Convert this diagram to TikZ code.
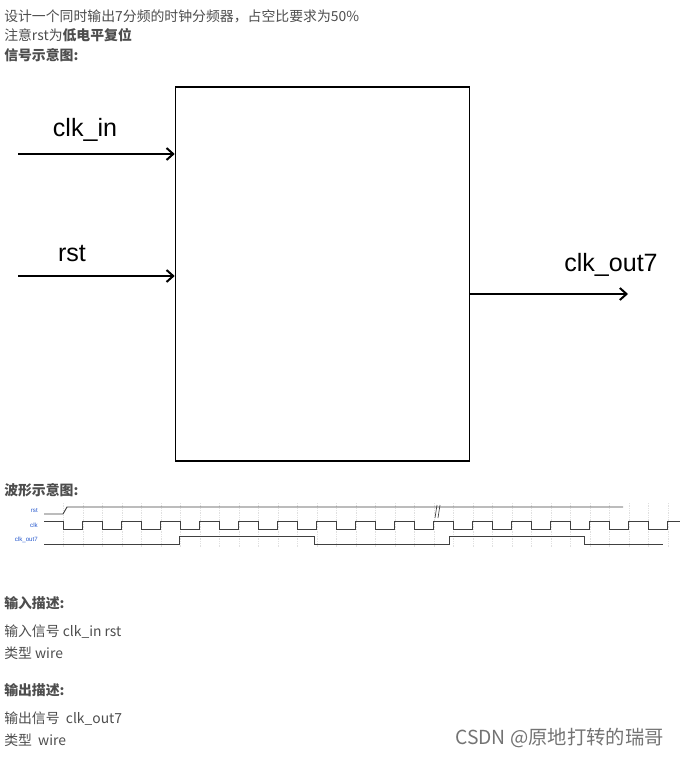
\documentclass[tikz,border=0pt]{standalone}
\usepackage{fontspec}
\usetikzlibrary{arrows.meta}
\setmainfont{Liberation Sans}
\newfontfamily\cjk{Noto Sans CJK SC}
\definecolor{txt}{HTML}{4D4D4D}
\definecolor{wblue}{HTML}{2255CC}
\begin{document}
\begin{tikzpicture}[x=0.75pt,y=-0.75pt,
  hdr/.style={anchor=west,inner sep=0,text=txt,font=\cjk\fontsize{10.4}{12}\selectfont},
  big/.style={inner sep=0,font=\fontsize{18.8}{22}\selectfont},
  sig/.style={-{Straight Barb[length=5pt,width=9pt]},line width=1.5pt},
  wave/.style={line width=0.7pt,draw=black!75},
  wlab/.style={anchor=east,inner sep=0,text=wblue,font=\fontsize{4.6}{5}\selectfont}]
\useasboundingbox (0,0) rectangle (680,757);
\node[hdr] (t1) at (4,16) {设计一个同时输出7分频的时钟分频器，占空比要求为50\%};
\node[hdr] (t2) at (4,35) {注意rst为\textbf{低电平复位}};
\node[hdr] (t3) at (4,55) {\textbf{信号示意图:}};
\node[draw,line width=1.2pt,minimum width=220.5pt,minimum height=280.5pt,inner sep=0] (box) at (322.5,274) {};
\coordinate (a1) at (18,154); \coordinate (a2) at (18,276);
\draw[sig] (a1) -- (a1 -| box.west);
\draw[sig] (a2) -- (a2 -| box.west);
\coordinate (o) at (628,294);
\draw[sig] (o -| box.east) -- (o);
\node[big] (l1) at (85,130) {clk\_in};
\node[big] (l2) at (72,254) {rst};
\node[big] (l3) at (611,265) {clk\_out7};
\node[hdr] (t4) at (4,490) {\textbf{波形示意图:}};
% grid
\foreach \i in {0,...,31} \draw[black!12,densely dotted,line width=0.3pt] ({63.5+19.5*\i},503) -- ({63.5+19.5*\i},548);
\node[wlab] (wr) at (38,511) {rst};
\node[wlab] (wc) at (38,525) {clk};
\node[wlab] (wo) at (38,540) {clk\_out7};
\draw[wave] (44,514) -- (63,514) -- (67,507) -- (623,507);
\draw[black!75,line width=0.5pt] (435,518) -- (437,505) (438,518) -- (440,505);
\draw[wave] (44,521) \foreach \i in {0,...,15} { -- ({63+39*\i},521) -- ({63+39*\i},529) -- ({82.5+39*\i},529) -- ({82.5+39*\i},521)} -- (680,521);
\draw[wave] (44,544) -- (179,544) -- (179,536) -- (314,536) -- (314,544) -- (449,544) -- (449,536) -- (584,536) -- (584,544) -- (663,544);
\node[hdr] (t5) at (4,603) {\textbf{输入描述:}};
\node[hdr] (t6) at (4,632) {输入信号 clk\_in rst};
\node[hdr] (t7) at (4,653) {类型 wire};
\node[hdr] (t8) at (4,690) {\textbf{输出描述:}};
\node[hdr] (t9) at (4,719) {输出信号\ \ clk\_out7};
\node[hdr] (t10) at (4,740) {类型\ \ wire};
\node[anchor=east,inner sep=0,text=black!55,font=\cjk\fontsize{14.5}{16}\selectfont] (wm) at (664,738) {CSDN @原地打转的瑞哥};
\end{tikzpicture}
\end{document}
